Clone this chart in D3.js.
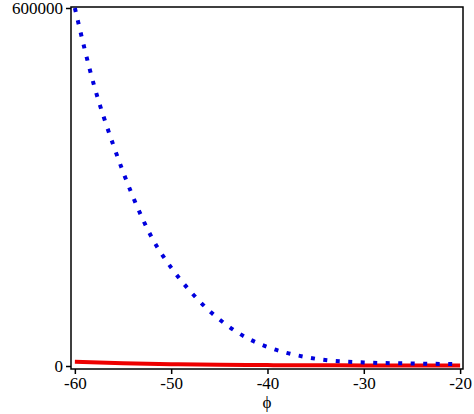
<!DOCTYPE html><html><head><script src="https://cdn.jsdelivr.net/npm/d3@7"></script>
<style>body{margin:0;background:#fff}text{font-family:"Liberation Serif",serif;font-size:17px}</style></head><body>
<svg width="474" height="414"></svg>
<script>
const blueX=[-60,-58,-56,-54,-52,-50,-48,-46,-44,-42,-40,-38,-36,-34,-32,-30,-28,-26,-24,-22,-20];
const blueY=[600000,470000,370000,285000,215000,165000,125000,92000,66000,46000,32000,22000,15000,10000,7500,6000,5000,4500,4000,3500,3000];
const redX=[-60,-55,-50,-45,-40,-35,-30,-25,-20];
const redY=[7000,4500,3000,2000,1500,1200,1000,900,800];
const xTicks=[-60,-50,-40,-30,-20];
const yTicks=[0,600000];
const svg=d3.select("svg");
const L=71,R=463,T=7,B=369;
const x=d3.scaleLinear().domain([-60.4,-19.7]).range([L,R]);
const y=d3.scaleLinear().domain([-5000,600000]).range([B,8]);
svg.append("rect").attr("x",L).attr("y",T).attr("width",R-L).attr("height",B-T).attr("fill","none").attr("stroke","#000").attr("stroke-width",1.5);
const gx=svg.append("g").attr("transform",`translate(0,${B})`).call(d3.axisBottom(x).tickValues(xTicks).tickSize(5).tickFormat(d=>d<0?"-"+(-d):d));
const gy=svg.append("g").attr("transform",`translate(${L},0)`).call(d3.axisLeft(y).tickValues(yTicks).tickSize(5).tickFormat(d=>String(d)));
[gx,gy].forEach(g=>{g.select(".domain").remove();g.selectAll("line").attr("stroke-width",1.5);g.selectAll("text").style("font-size","17px").attr("fill","#000");});
svg.append("text").attr("x",(L+R)/2).attr("y",408).attr("text-anchor","middle").text("ϕ");
const line=d3.line().x(d=>x(d[0])).y(d=>y(d[1])).curve(d3.curveMonotoneX);
svg.append("path").attr("d",line(redX.map((v,i)=>[v,redY[i]]))).attr("fill","none").attr("stroke","#e00").attr("stroke-width",4);
svg.append("path").attr("d",line(blueX.map((v,i)=>[v,blueY[i]]))).attr("fill","none").attr("stroke","#00d").attr("stroke-width",4).attr("stroke-dasharray","4,8.5");
</script></body></html>
